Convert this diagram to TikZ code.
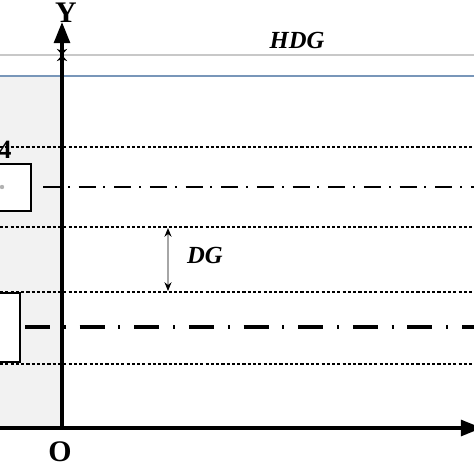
\documentclass[tikz,border=0pt]{standalone}
\usepackage{fontspec}
\setmainfont{Liberation Serif}
\usetikzlibrary{arrows.meta}

\definecolor{zonegray}{RGB}{242,242,242}
\definecolor{waterline}{RGB}{120,150,185}
\definecolor{hdgline}{RGB}{200,200,200}

\tikzset{
	axis/.style={line width=1.9pt, -{Triangle[length=12pt,width=9pt]}},
	laneline/.style={line width=1pt, dash pattern=on 1.8pt off 1.2pt},
	centreline/.style={line width=1.5pt, dash pattern=on 9.6pt off 4.5pt on 1.1pt off 5.1pt},
	widecentreline/.style={line width=1.9pt, dash pattern=on 14.2pt off 7.9pt on 1.1pt off 7.9pt},
	hullbox/.style={line width=1.6pt},
	biglabel/.style={font=\bfseries\fontsize{17}{17}\selectfont},
	gaplabel/.style={font=\bfseries\itshape\fontsize{14}{14}\selectfont},
	hdgtip/.style={line width=0.6pt, -{Stealth[length=3.5pt,width=6pt]}}
}

\begin{document}
\begin{tikzpicture}[x=0.02cm,y=-0.02cm]
	\useasboundingbox (0,0) rectangle (474,474);
	%shaded zone left of the axis
		\fill[zonegray] (0,76) rectangle (62,428);
	%top limit lines
		\draw[hdgline, line width=0.8pt] (0,55) -- (474,55);
		\draw[waterline, line width=0.8pt] (0,76) -- (474,76);
	%lane limits
		\foreach \yy in {147,227,292,364}
			\draw[laneline] (0,\yy) -- (474,\yy);
	%vessels
		\draw[hullbox, fill=white] (-10,164) rectangle (31,211);
		\fill[gray!60] (2,187) circle (2.2);
		\node[font=\bfseries\fontsize{15}{15}\selectfont] (shipfour) at (5,150) {4};
		\draw[hullbox, fill=white] (-10,293) rectangle (20,362);
	%centre lines
		\draw[centreline] (43,187) -- (474,187);
		\draw[widecentreline] (25,327) -- (474,327);
	%axis + labels
		\coordinate (origin) at (62,428);
		\coordinate (ytip) at (62,22);
		\coordinate (xtip) at (482,428);
		\draw[axis] (origin) -- (ytip);
		\draw[line width=1.9pt] (origin) -- (0,428);
		\draw[axis] (origin) -- (xtip);
		\node[biglabel] (ylabel) at (66,13) {Y};
		\node[biglabel] (olabel) at (60,452) {O};
	%HDG description
		\coordinate (hdgmark) at (62,55);
		\coordinate (hdgtop) at (62,47);
		\coordinate (hdgbot) at (62,63);
		\draw[hdgtip] (hdgtop) -- (hdgmark);
		\draw[hdgtip] (hdgbot) -- (hdgmark);
		\node[gaplabel] (hdg) at (297,40) {HDG};
	%DG description
		\coordinate (dgtop) at (168,228);
		\coordinate (dgbot) at (168,291);
		\draw[gray!70, line width=0.6pt, {Stealth[length=5pt,width=4pt,black]}-{Stealth[length=5pt,width=4pt,black]}] (dgtop) -- (dgbot);
		\node[gaplabel] (dg) at (205,255) {DG};
\end{tikzpicture}
\end{document}
